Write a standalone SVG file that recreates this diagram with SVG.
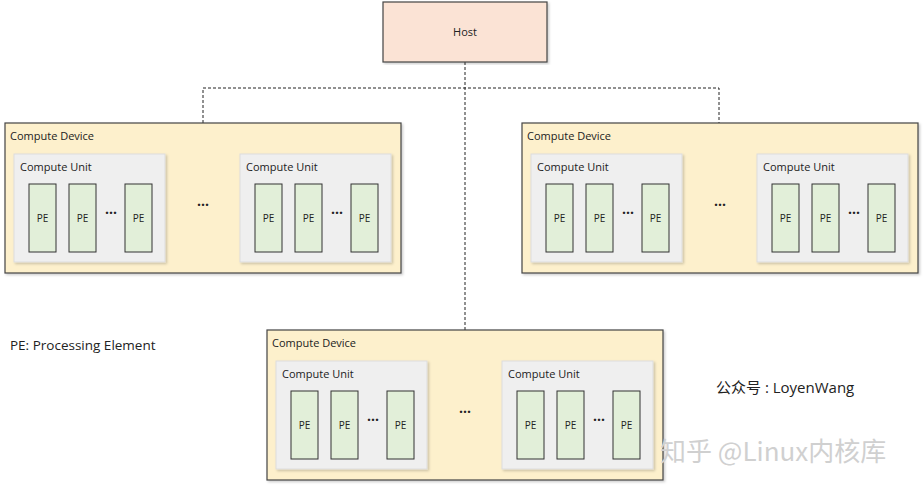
<svg xmlns="http://www.w3.org/2000/svg" width="924" height="488" viewBox="0 0 924 488">
<defs>
<style>
text{font-family:"Open Sans","Noto Sans","Liberation Sans",sans-serif;fill:#222}
.dev{fill:#fdf0cc;stroke:#444;stroke-width:1.2}
.cu{fill:#efefef;stroke:#ddd;stroke-width:1}
.pe{fill:#e2efd9;stroke:#333;stroke-width:1}
.lbl{font-size:11px}
.pet{font-size:10px;text-anchor:middle}
.dots{font-size:14px;font-weight:bold;text-anchor:middle}
.conn{fill:none;stroke:#222;stroke-width:1;stroke-dasharray:3,2}
</style>
<filter id="sh" x="-5%" y="-5%" width="110%" height="110%"><feDropShadow dx="1.5" dy="1.5" stdDeviation="1" flood-color="#000" flood-opacity="0.2"/></filter>
<g id="cu">
<rect class="cu" x="0" y="0" width="151" height="108" filter="url(#sh)"/>
<text class="lbl" x="6" y="17">Compute Unit</text>
<rect class="pe" x="15" y="30" width="27" height="68"/><text class="pet" x="28.5" y="68">PE</text>
<rect class="pe" x="55" y="30" width="27" height="68"/><text class="pet" x="68.5" y="68">PE</text>
<text class="dots" x="97" y="64">···</text>
<rect class="pe" x="111" y="30" width="27" height="68"/><text class="pet" x="124.5" y="68">PE</text>
</g>
<g id="devt">
<rect class="dev" x="0" y="0" width="396" height="150" filter="url(#sh)"/>
<text class="lbl" x="5" y="17">Compute Device</text>
<use href="#cu" x="9" y="31"/>
<use href="#cu" x="235" y="31"/>
<text class="dots" x="198" y="87">···</text>
</g>
</defs>
<g id="connectors">
<path class="conn" d="M465 62 V330"/>
<path class="conn" d="M203 123 V88 H719 V123"/>
</g>
<g id="host">
<rect x="383" y="2" width="164" height="60" fill="#fbe3d5" stroke="#444" stroke-width="1.2" filter="url(#sh)"/>
<text class="lbl" x="465" y="36" text-anchor="middle">Host</text>
</g>
<g id="device-left"><use href="#devt" x="5" y="123"/></g>
<g id="device-right"><use href="#devt" x="522" y="123"/></g>
<g id="device-bottom"><use href="#devt" x="267" y="330"/></g>
<text x="10" y="350" font-size="13.5">PE: Processing Element</text>
<text x="716" y="393" font-size="15" style="font-family:'Open Sans','Noto Sans CJK SC',sans-serif">公众号 : LoyenWang</text>
<text x="660" y="461" font-size="26" style="fill:#d0d0d0;font-family:'Noto Sans CJK SC',sans-serif">知乎 @Linux内核库</text>
</svg>
